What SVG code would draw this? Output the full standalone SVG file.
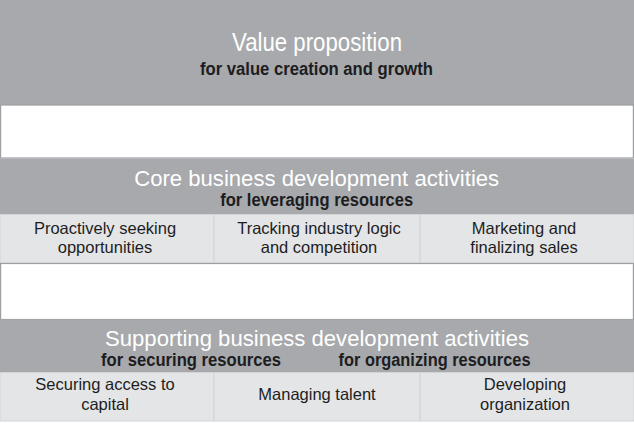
<svg xmlns="http://www.w3.org/2000/svg" width="634" height="423" viewBox="0 0 634 423">
<style>
.band{fill:#a7a9ac}
.gap{fill:#ffffff;stroke:#9d9fa2;stroke-width:1.2}
.cell{fill:#e4e5e6;stroke:#d3d4d6;stroke-width:1}
.h{font-family:"Liberation Sans",Arial,sans-serif;font-size:21.5px;fill:#ffffff;text-anchor:middle}
.s{font-family:"Liberation Sans",Arial,sans-serif;font-size:18px;font-weight:bold;fill:#1d1d1f;text-anchor:middle}
.t{font-family:"Liberation Sans",Arial,sans-serif;font-size:16.5px;fill:#1d1d1f;text-anchor:middle}
</style>
<rect x="0" y="0" width="634" height="423" fill="#ffffff"/>
<g id="value-proposition">
<rect class="band" x="0" y="0" width="634" height="105"/>
<text class="h" x="317" y="51" style="font-size:25px" textLength="170" lengthAdjust="spacingAndGlyphs">Value proposition</text>
<text class="s" x="316.5" y="75" textLength="233" lengthAdjust="spacingAndGlyphs">for value creation and growth</text>
</g>
<g id="gap-1"><rect class="gap" x="0.6" y="105" width="632.8" height="53"/></g>
<g id="core-activities">
<rect class="band" x="0" y="158.6" width="634" height="56"/>
<text class="h" x="316.7" y="186" textLength="365" lengthAdjust="spacingAndGlyphs">Core business development activities</text>
<text class="s" x="316.7" y="206" textLength="193" lengthAdjust="spacingAndGlyphs">for leveraging resources</text>
</g>
<g id="core-seeking">
<rect class="cell" x="0" y="214.5" width="214" height="48.5"/>
<text class="t" x="105" y="234">Proactively seeking</text>
<text class="t" x="105" y="253">opportunities</text>
</g>
<g id="core-tracking">
<rect class="cell" x="214" y="214.5" width="206" height="48.5"/>
<text class="t" x="319" y="234">Tracking industry logic</text>
<text class="t" x="319" y="253">and competition</text>
</g>
<g id="core-marketing">
<rect class="cell" x="420" y="214.5" width="214" height="48.5"/>
<text class="t" x="524" y="234">Marketing and</text>
<text class="t" x="524" y="253">finalizing sales</text>
</g>
<g id="gap-2"><rect class="gap" x="0.6" y="263.5" width="632.8" height="56"/></g>
<g id="supporting-activities">
<rect class="band" x="0" y="319.5" width="634" height="53"/>
<text class="h" x="317" y="346" textLength="424" lengthAdjust="spacingAndGlyphs">Supporting business development activities</text>
<text class="s" x="191" y="366" textLength="180" lengthAdjust="spacingAndGlyphs">for securing resources</text>
<text class="s" x="434.5" y="366" textLength="192" lengthAdjust="spacingAndGlyphs">for organizing resources</text>
</g>
<g id="support-capital">
<rect class="cell" x="0" y="372.5" width="214" height="48.5"/>
<text class="t" x="105" y="390">Securing access to</text>
<text class="t" x="105" y="410">capital</text>
</g>
<g id="support-talent">
<rect class="cell" x="214" y="372.5" width="206" height="48.5"/>
<text class="t" x="317" y="400">Managing talent</text>
</g>
<g id="support-organization">
<rect class="cell" x="420" y="372.5" width="214" height="48.5"/>
<text class="t" x="525" y="390">Developing</text>
<text class="t" x="525" y="410">organization</text>
</g>
<g id="connectors"></g>
</svg>
